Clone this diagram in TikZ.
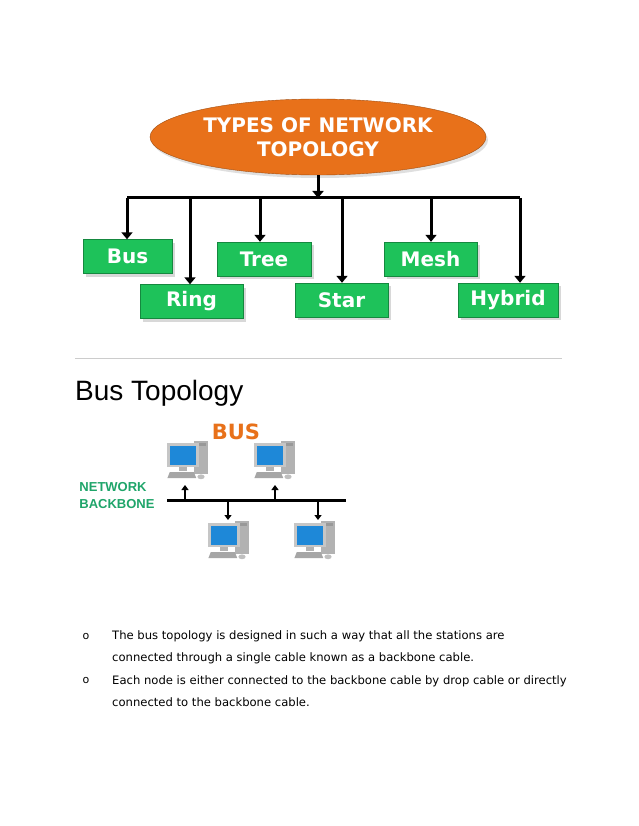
\documentclass[tikz,border=0pt]{standalone}
\usepackage{fontspec}
\setmainfont{Liberation Sans}
\newfontfamily\dv{DejaVu Sans}
\usetikzlibrary{shapes.geometric,arrows.meta,shadows}
\definecolor{topo}{HTML}{E8711A}
\definecolor{grn}{HTML}{1EC25A}
\definecolor{mon}{HTML}{1E88D8}
\definecolor{bbg}{HTML}{1FA56A}
\tikzset{
 x=1pt,y=-1pt,
 tbox/.style={draw=grn!70!black,fill=grn,minimum height=34pt,font=\fontsize{20}{20}\selectfont\bfseries\dv,text=white,drop shadow={shadow xshift=3pt,shadow yshift=-3pt,opacity=.3}},
 drop/.style={line width=3pt,-{Triangle[length=7pt,width=11pt]}},
 sarr/.style={line width=2pt,-{Triangle[length=5pt,width=7pt]}},
 btxt/.style={font=\fontsize{11.6}{22}\selectfont\dv,anchor=west,align=left,inner sep=0}
}
\newcommand\pc[1]{%
 \begin{scope}[shift={#1},scale=1.2]
  \fill[gray!60] (4,-16) rectangle (16,12);
  \fill[gray!80] (6,-14) rectangle (14,-12);
  \fill[gray!45] (-18,-14) rectangle (8,6);
  \fill[mon] (-16,-12) rectangle (6,4);
  \fill[gray!60] (-8,6) rectangle (-2,9);
  \fill[gray!70] (-16,10) -- (4,10) -- (6,15) -- (-18,15) -- cycle;
  \fill[gray!50] (10,14) ellipse (3 and 2);
 \end{scope}}
\begin{document}
\begin{tikzpicture}
\useasboundingbox[fill=white] (0,0) rectangle (638,826);
% top diagram
\node[ellipse,fill=topo,draw=topo!70!black,minimum width=336pt,minimum height=76pt,
 drop shadow={shadow xshift=2pt,shadow yshift=-3pt,opacity=.25},
 font=\fontsize{20}{24}\selectfont\bfseries\dv,text=white,align=center] (root) at (318,137)
 {TYPES OF NETWORK\\TOPOLOGY};
\coordinate (hub) at (318,198);
\draw[drop] (root.south) -- (hub);
\coordinate (bl) at (127,198);
\coordinate (br) at (520,198);
\draw[line width=3pt] (bl) -- (br);
\node[tbox,minimum width=89pt] (bus) at (127.5,256.5) {Bus};
\node[tbox,minimum width=103pt] (ring) at (191.5,301.5) {Ring};
\node[tbox,minimum width=94pt] (tree) at (264,259) {Tree};
\node[tbox,minimum width=93pt] (star) at (341.5,300) {Star};
\node[tbox,minimum width=93pt] (mesh) at (430.5,259) {Mesh};
\node[tbox,minimum width=100pt] (hyb) at (508,300) {Hybrid};
\foreach \n/\x in {bus/127,ring/190,tree/260,star/342,mesh/431,hyb/520}{
 \coordinate (t\n) at (\x,198);
 \draw[drop] (t\n) -- (t\n |- \n.north);
}
% rule
\coordinate (r1) at (75,358); \coordinate (r2) at (562,358);
\draw[gray!40,line width=0.8pt] (r1) -- (r2);
\node[anchor=base west,font=\fontsize{28}{30}\selectfont,inner sep=0] (h) at (75,400) {Bus Topology};
% bus diagram
\node[font=\fontsize{21}{22}\selectfont\bfseries\dv,text=topo] (bt) at (236,432) {BUS};
\node[font=\fontsize{13}{17}\selectfont\bfseries,text=bbg,align=left] (nb) at (117,496) {NETWORK\\BACKBONE};
\coordinate (b1) at (167,500); \coordinate (b2) at (346,500);
\draw[line width=3pt] (b1) -- (b2);
\pc{(189,460)} \pc{(276,460)} \pc{(230,540)} \pc{(316,540)}
\foreach \x in {185,275}{\coordinate (u\x) at (\x,500); \draw[sarr] (u\x) -- ++(0,-15);}
\foreach \x in {228,318}{\coordinate (d\x) at (\x,500); \draw[sarr] (d\x) -- ++(0,20);}
% bullets
\node[btxt] (p1) at (112,647) {The bus topology is designed in such a way that all the stations are\\connected through a single cable known as a backbone cable.};
\node[btxt] (p2) at (112,691) {Each node is either connected to the backbone cable by drop cable or directly\\connected to the backbone cable.};
\node[font=\fontsize{11}{12}\selectfont\dv] (o1) at (86,636) {o};
\node[font=\fontsize{11}{12}\selectfont\dv] (o2) at (86,680) {o};
\end{tikzpicture}
\end{document}
